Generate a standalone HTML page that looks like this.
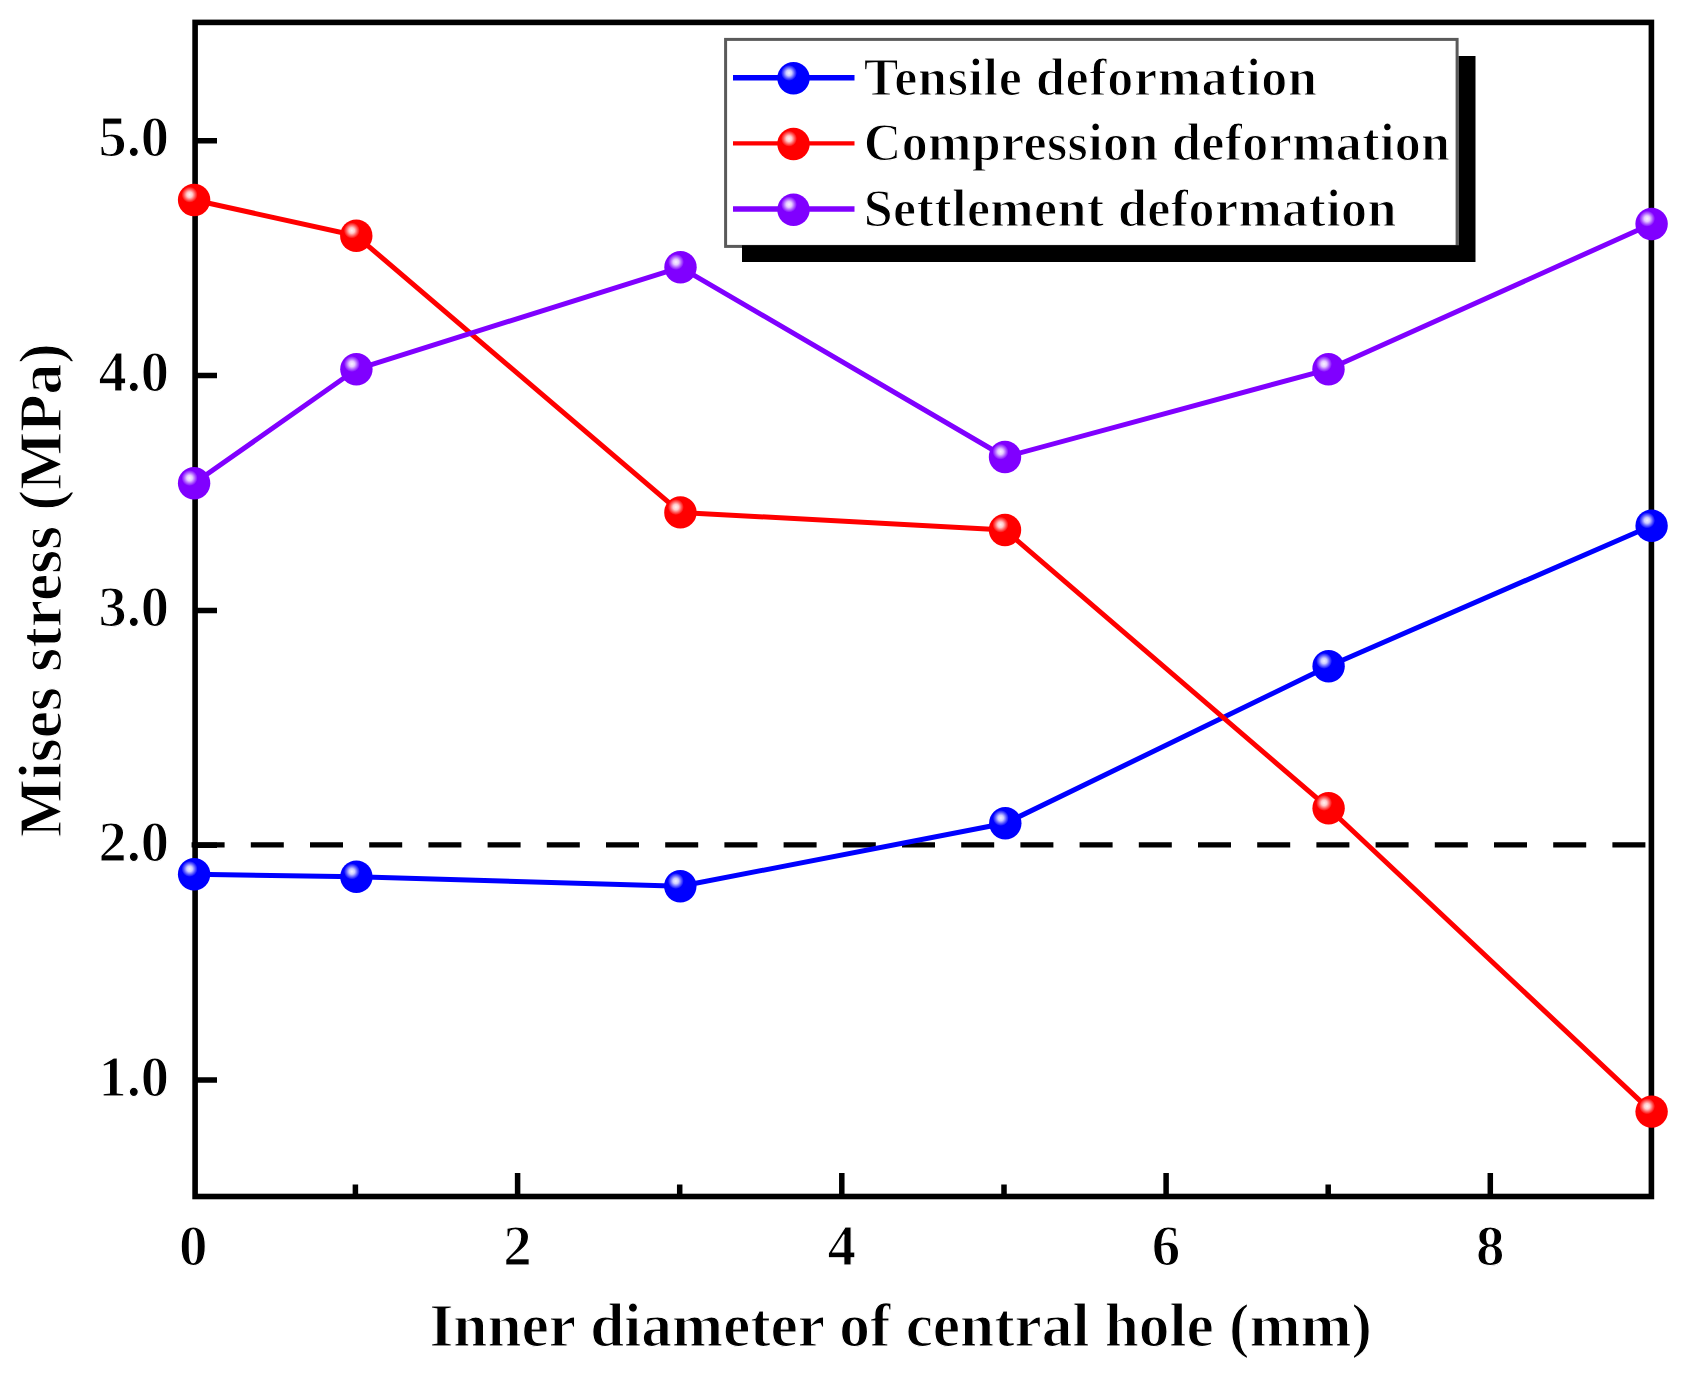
<!DOCTYPE html>
<html><head><meta charset="utf-8"><title>Mises stress chart</title><style>html,body{margin:0;padding:0;background:#fff;}svg{display:block;}</style></head><body>
<svg width="1688" height="1375" viewBox="0 0 1688 1375">
<defs>
<radialGradient id="hl" cx="0.5" cy="0.5" r="0.5">
<stop offset="0" stop-color="#fff" stop-opacity="0.95"/>
<stop offset="0.35" stop-color="#fff" stop-opacity="0.8"/>
<stop offset="0.7" stop-color="#fff" stop-opacity="0.35"/>
<stop offset="1" stop-color="#fff" stop-opacity="0"/>
</radialGradient>
</defs>
<rect x="0" y="0" width="1688" height="1375" fill="#fff"/>
<line x1="191.6" y1="844.8" x2="1648" y2="844.8" stroke="#000" stroke-width="5.3" stroke-dasharray="33 26.2"/>
<path d="M195.1 1080.1H217M195.1 845.2H217M195.1 610.4H217M195.1 375.6H217M195.1 140.7H217M517.6 1196.5V1173M841.8 1196.5V1173M1166.1 1196.5V1173M1490.3 1196.5V1173M355.4 1196.5V1184.5M679.7 1196.5V1184.5M1004.0 1196.5V1184.5M1328.2 1196.5V1184.5" stroke="#000" stroke-width="5.5" fill="none"/>
<rect x="195.1" y="22.4" width="1456.3" height="1174.1" fill="none" stroke="#000" stroke-width="5.6"/>
<path d="M194.1 874.2 L356.4 876.8 L680.3 886.3 L1005.3 823.3 L1328.6 666.2 L1651.6 525.7" stroke="#0000ff" stroke-width="5.0" fill="none" stroke-linejoin="round"/>
<path d="M194.1 200.0 L356.3 235.8 L680.4 512.4 L1005.0 530.0 L1328.6 808.2 L1651.6 1111.6" stroke="#ff0000" stroke-width="5.0" fill="none" stroke-linejoin="round"/>
<path d="M194.1 483.3 L356.4 369.3 L680.5 267.3 L1005.0 457.0 L1328.5 369.3 L1651.6 224.0" stroke="#8000ff" stroke-width="5.0" fill="none" stroke-linejoin="round"/>
<circle cx="194.1" cy="874.2" r="16.2" fill="#0000ff"/><circle cx="189.6" cy="868.9" r="8" fill="url(#hl)"/>
<circle cx="356.4" cy="876.8" r="16.2" fill="#0000ff"/><circle cx="351.9" cy="871.5" r="8" fill="url(#hl)"/>
<circle cx="680.3" cy="886.3" r="16.2" fill="#0000ff"/><circle cx="675.8" cy="881.0" r="8" fill="url(#hl)"/>
<circle cx="1005.3" cy="823.3" r="16.2" fill="#0000ff"/><circle cx="1000.8" cy="818.0" r="8" fill="url(#hl)"/>
<circle cx="1328.6" cy="666.2" r="16.2" fill="#0000ff"/><circle cx="1324.1" cy="660.9" r="8" fill="url(#hl)"/>
<circle cx="1651.6" cy="525.7" r="16.2" fill="#0000ff"/><circle cx="1647.1" cy="520.4" r="8" fill="url(#hl)"/>
<circle cx="194.1" cy="200.0" r="16.2" fill="#ff0000"/><circle cx="189.6" cy="194.7" r="8" fill="url(#hl)"/>
<circle cx="356.3" cy="235.8" r="16.2" fill="#ff0000"/><circle cx="351.8" cy="230.5" r="8" fill="url(#hl)"/>
<circle cx="680.4" cy="512.4" r="16.2" fill="#ff0000"/><circle cx="675.9" cy="507.1" r="8" fill="url(#hl)"/>
<circle cx="1005.0" cy="530.0" r="16.2" fill="#ff0000"/><circle cx="1000.5" cy="524.7" r="8" fill="url(#hl)"/>
<circle cx="1328.6" cy="808.2" r="16.2" fill="#ff0000"/><circle cx="1324.1" cy="802.9" r="8" fill="url(#hl)"/>
<circle cx="1651.6" cy="1111.6" r="16.2" fill="#ff0000"/><circle cx="1647.1" cy="1106.3" r="8" fill="url(#hl)"/>
<circle cx="194.1" cy="483.3" r="16.2" fill="#8000ff"/><circle cx="189.6" cy="478.0" r="8" fill="url(#hl)"/>
<circle cx="356.4" cy="369.3" r="16.2" fill="#8000ff"/><circle cx="351.9" cy="364.0" r="8" fill="url(#hl)"/>
<circle cx="680.5" cy="267.3" r="16.2" fill="#8000ff"/><circle cx="676.0" cy="262.0" r="8" fill="url(#hl)"/>
<circle cx="1005.0" cy="457.0" r="16.2" fill="#8000ff"/><circle cx="1000.5" cy="451.7" r="8" fill="url(#hl)"/>
<circle cx="1328.5" cy="369.3" r="16.2" fill="#8000ff"/><circle cx="1324.0" cy="364.0" r="8" fill="url(#hl)"/>
<circle cx="1651.6" cy="224.0" r="16.2" fill="#8000ff"/><circle cx="1647.1" cy="218.7" r="8" fill="url(#hl)"/>
<rect x="725.6" y="39.4" width="731.5" height="207" fill="#fff" stroke="#5a5a5a" stroke-width="3"/>
<path d="M742 245.2H1475.5V56H1458.6V245.2Z M742 245.2V262H1475.5V245.2Z" fill="#000"/>
<line x1="733" y1="77.7" x2="854.5" y2="77.7" stroke="#0000ff" stroke-width="5.4"/>
<circle cx="793.5" cy="78.2" r="16.2" fill="#0000ff"/><circle cx="789.0" cy="72.9" r="8" fill="url(#hl)"/>
<text x="863.8" y="94.6" font-family="'Liberation Serif', 'Times New Roman', serif" font-weight="bold" font-size="52" letter-spacing="0.64" stroke="#fff" stroke-width="1.2">Tensile deformation</text>
<line x1="733" y1="143.3" x2="854.5" y2="143.3" stroke="#ff0000" stroke-width="4.2"/>
<circle cx="793.5" cy="144.0" r="16.2" fill="#ff0000"/><circle cx="789.0" cy="138.7" r="8" fill="url(#hl)"/>
<text x="863.8" y="159.6" font-family="'Liberation Serif', 'Times New Roman', serif" font-weight="bold" font-size="52" letter-spacing="0.36" stroke="#fff" stroke-width="1.2">Compression deformation</text>
<line x1="733" y1="209.0" x2="854.5" y2="209.0" stroke="#8000ff" stroke-width="5.4"/>
<circle cx="793.5" cy="209.8" r="16.2" fill="#8000ff"/><circle cx="789.0" cy="204.5" r="8" fill="url(#hl)"/>
<text x="863.8" y="225.7" font-family="'Liberation Serif', 'Times New Roman', serif" font-weight="bold" font-size="52" letter-spacing="0.4" stroke="#fff" stroke-width="1.2">Settlement deformation</text>
<text x="169.0" y="1095.7" text-anchor="end" font-family="'Liberation Serif', 'Times New Roman', serif" font-weight="bold" font-size="56.5" stroke="#fff" stroke-width="1.2">1.0</text>
<text x="169.0" y="860.9" text-anchor="end" font-family="'Liberation Serif', 'Times New Roman', serif" font-weight="bold" font-size="56.5" stroke="#fff" stroke-width="1.2">2.0</text>
<text x="169.0" y="626.0" text-anchor="end" font-family="'Liberation Serif', 'Times New Roman', serif" font-weight="bold" font-size="56.5" stroke="#fff" stroke-width="1.2">3.0</text>
<text x="169.0" y="391.2" text-anchor="end" font-family="'Liberation Serif', 'Times New Roman', serif" font-weight="bold" font-size="56.5" stroke="#fff" stroke-width="1.2">4.0</text>
<text x="169.0" y="156.3" text-anchor="end" font-family="'Liberation Serif', 'Times New Roman', serif" font-weight="bold" font-size="56.5" stroke="#fff" stroke-width="1.2">5.0</text>
<text x="193.3" y="1265.0" text-anchor="middle" font-family="'Liberation Serif', 'Times New Roman', serif" font-weight="bold" font-size="57" stroke="#fff" stroke-width="1.2">0</text>
<text x="517.6" y="1265.0" text-anchor="middle" font-family="'Liberation Serif', 'Times New Roman', serif" font-weight="bold" font-size="57" stroke="#fff" stroke-width="1.2">2</text>
<text x="841.8" y="1265.0" text-anchor="middle" font-family="'Liberation Serif', 'Times New Roman', serif" font-weight="bold" font-size="57" stroke="#fff" stroke-width="1.2">4</text>
<text x="1166.1" y="1265.0" text-anchor="middle" font-family="'Liberation Serif', 'Times New Roman', serif" font-weight="bold" font-size="57" stroke="#fff" stroke-width="1.2">6</text>
<text x="1490.3" y="1265.0" text-anchor="middle" font-family="'Liberation Serif', 'Times New Roman', serif" font-weight="bold" font-size="57" stroke="#fff" stroke-width="1.2">8</text>
<text x="429.5" y="1345.5" font-family="'Liberation Serif', 'Times New Roman', serif" font-weight="bold" font-size="61.3" stroke="#fff" stroke-width="1.2">Inner diameter of central hole (mm)</text>
<text transform="translate(61 837.3) rotate(-90)" x="0" y="0" font-family="'Liberation Serif', 'Times New Roman', serif" font-weight="bold" font-size="61.5" stroke="#fff" stroke-width="1.2">Mises stress (MPa)</text>
</svg>
</body></html>
